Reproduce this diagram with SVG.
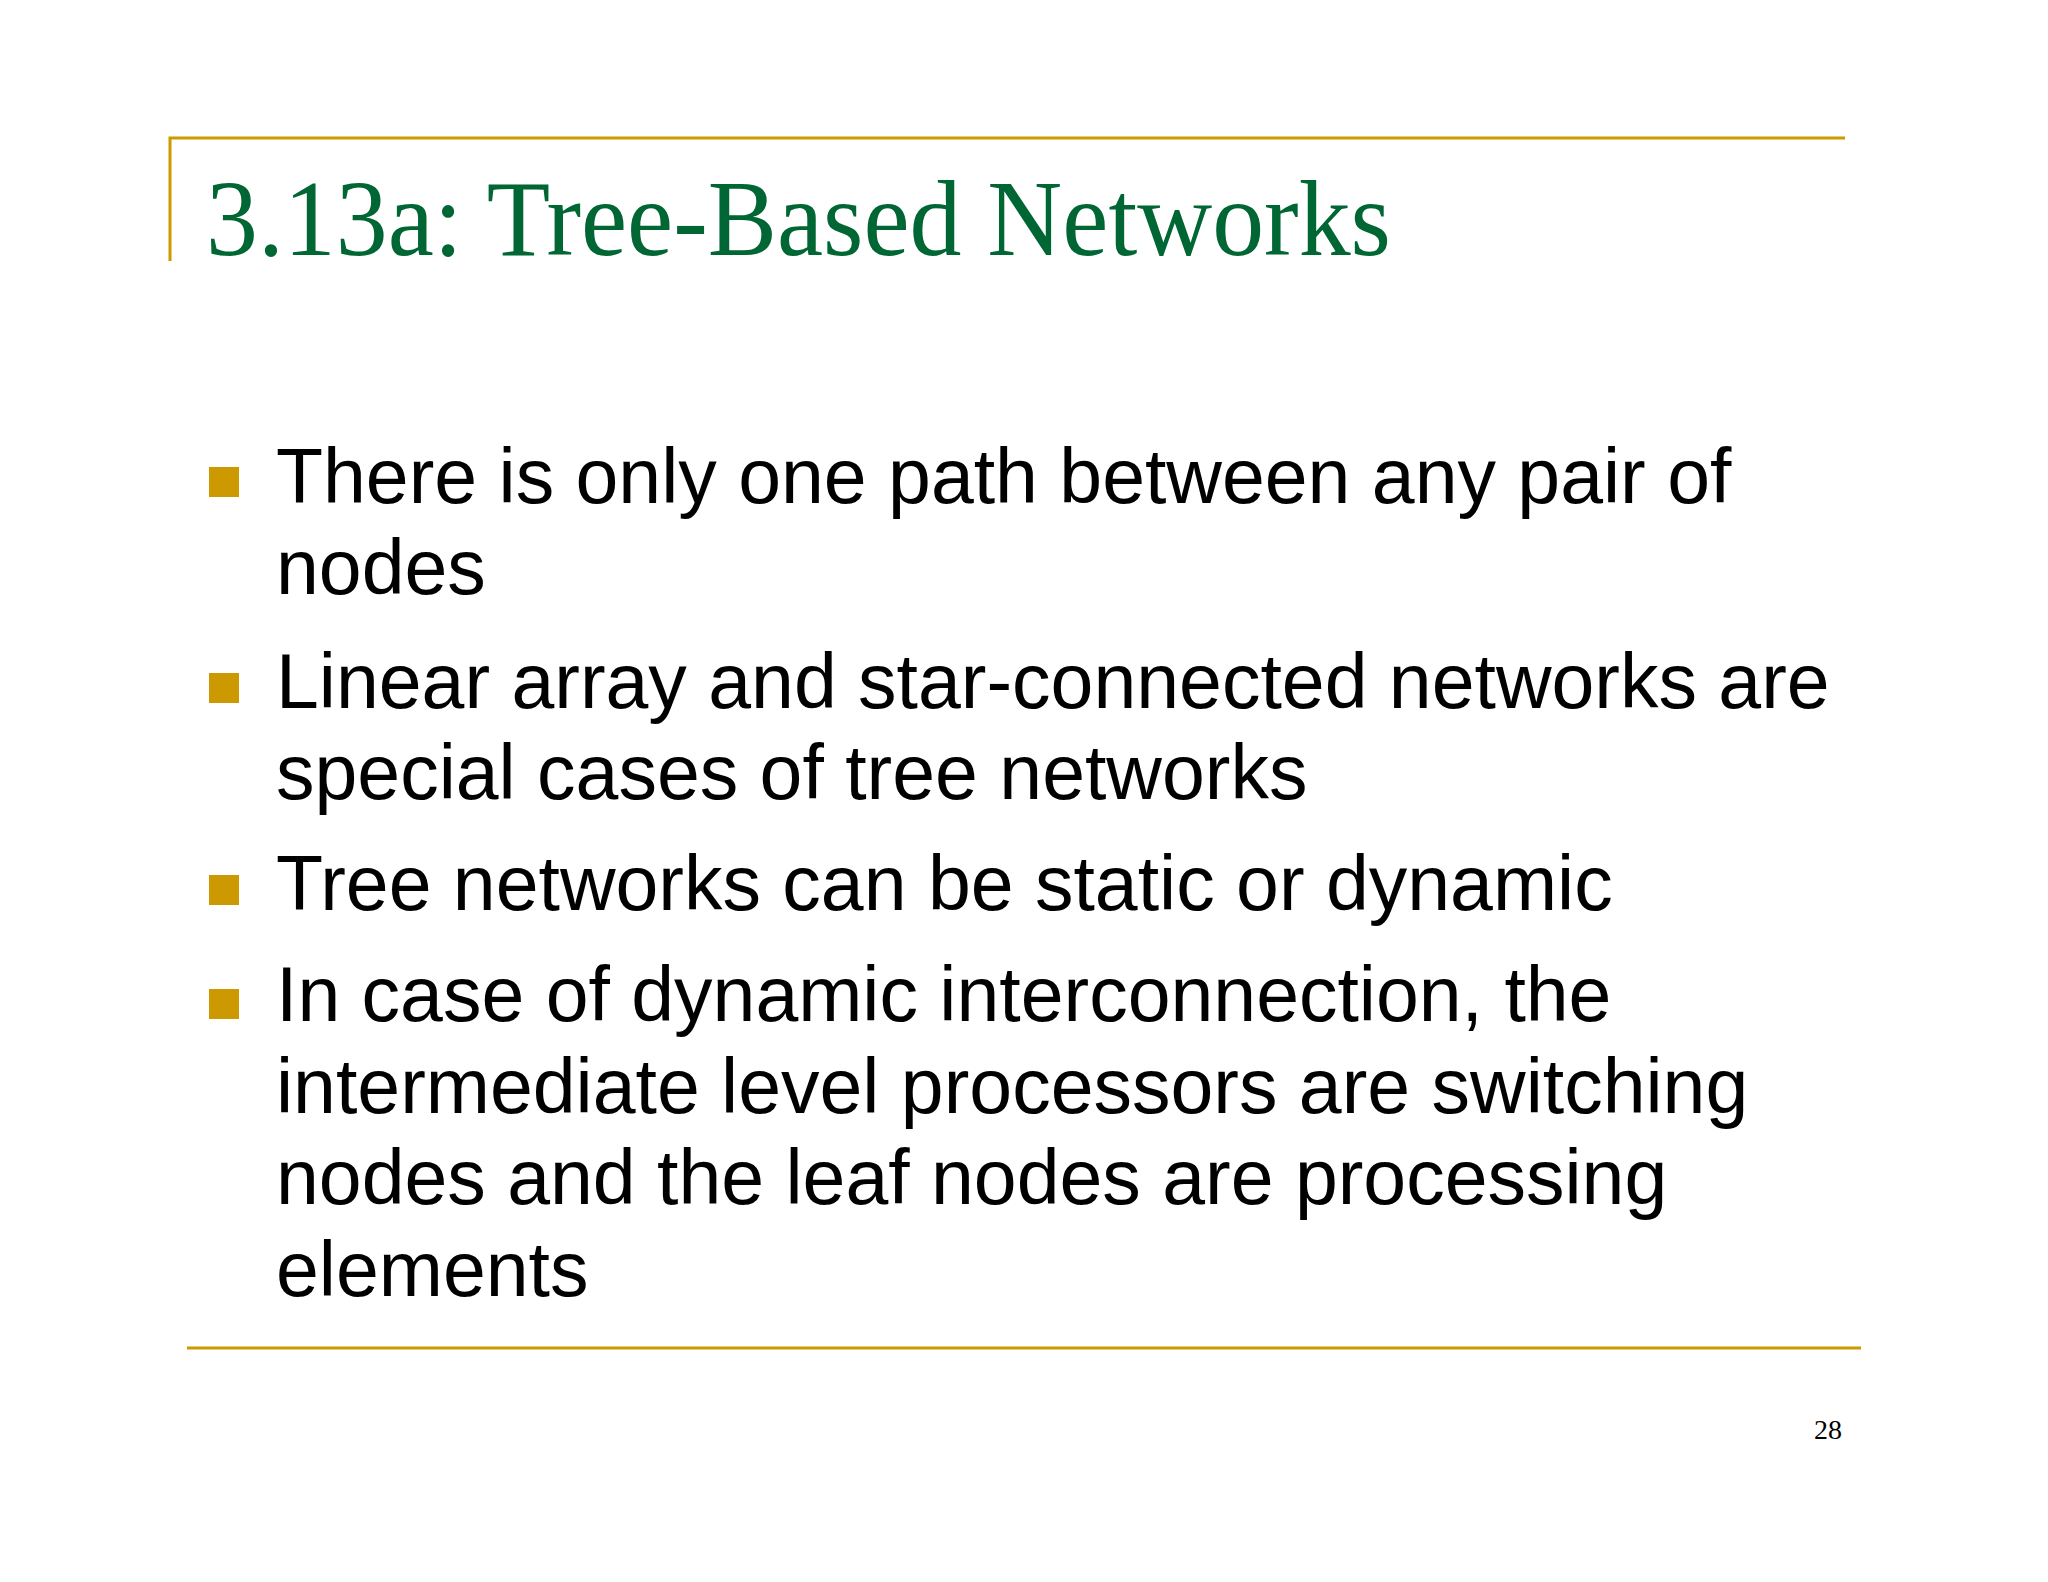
<svg xmlns="http://www.w3.org/2000/svg" width="2048" height="1582" viewBox="0 0 2048 1582">
<style>
.b{font-family:"Liberation Sans",Arial,sans-serif;font-size:77px;fill:#000}
.sq{fill:#CC9900}
.ln{stroke:#CC9900;stroke-width:3;fill:none}
</style>
<rect width="2048" height="1582" fill="#fff"/>
<g id="frame">
<path class="ln" d="M170 261 V138 H1845"/>
<path class="ln" d="M187 1348 H1861"/>
</g>
<g id="title"><text x="206" y="255" font-family="Liberation Serif,'Times New Roman',serif" font-size="108" fill="#006633" textLength="1185" lengthAdjust="spacingAndGlyphs">3.13a: Tree-Based Networks</text></g>
<g id="bullets">
<rect class="sq" x="209" y="467" width="30" height="30"/>
<rect class="sq" x="209" y="673" width="30" height="30"/>
<rect class="sq" x="209" y="875" width="30" height="30"/>
<rect class="sq" x="209" y="989" width="30" height="30"/>
<text class="b" x="276" y="503">There is only one path between any pair of</text>
<text class="b" x="276" y="594">nodes</text>
<text class="b" x="276" y="708">Linear array and star-connected networks are</text>
<text class="b" x="276" y="799">special cases of tree networks</text>
<text class="b" x="276" y="910">Tree networks can be static or dynamic</text>
<text class="b" x="276" y="1021">In case of dynamic interconnection, the</text>
<text class="b" x="276" y="1113">intermediate level processors are switching</text>
<text class="b" x="276" y="1204">nodes and the leaf nodes are processing</text>
<text class="b" x="276" y="1296">elements</text>
</g>
<g id="page"><text x="1828" y="1439" text-anchor="middle" font-family="Liberation Serif,serif" font-size="28" fill="#000">28</text></g>
</svg>
